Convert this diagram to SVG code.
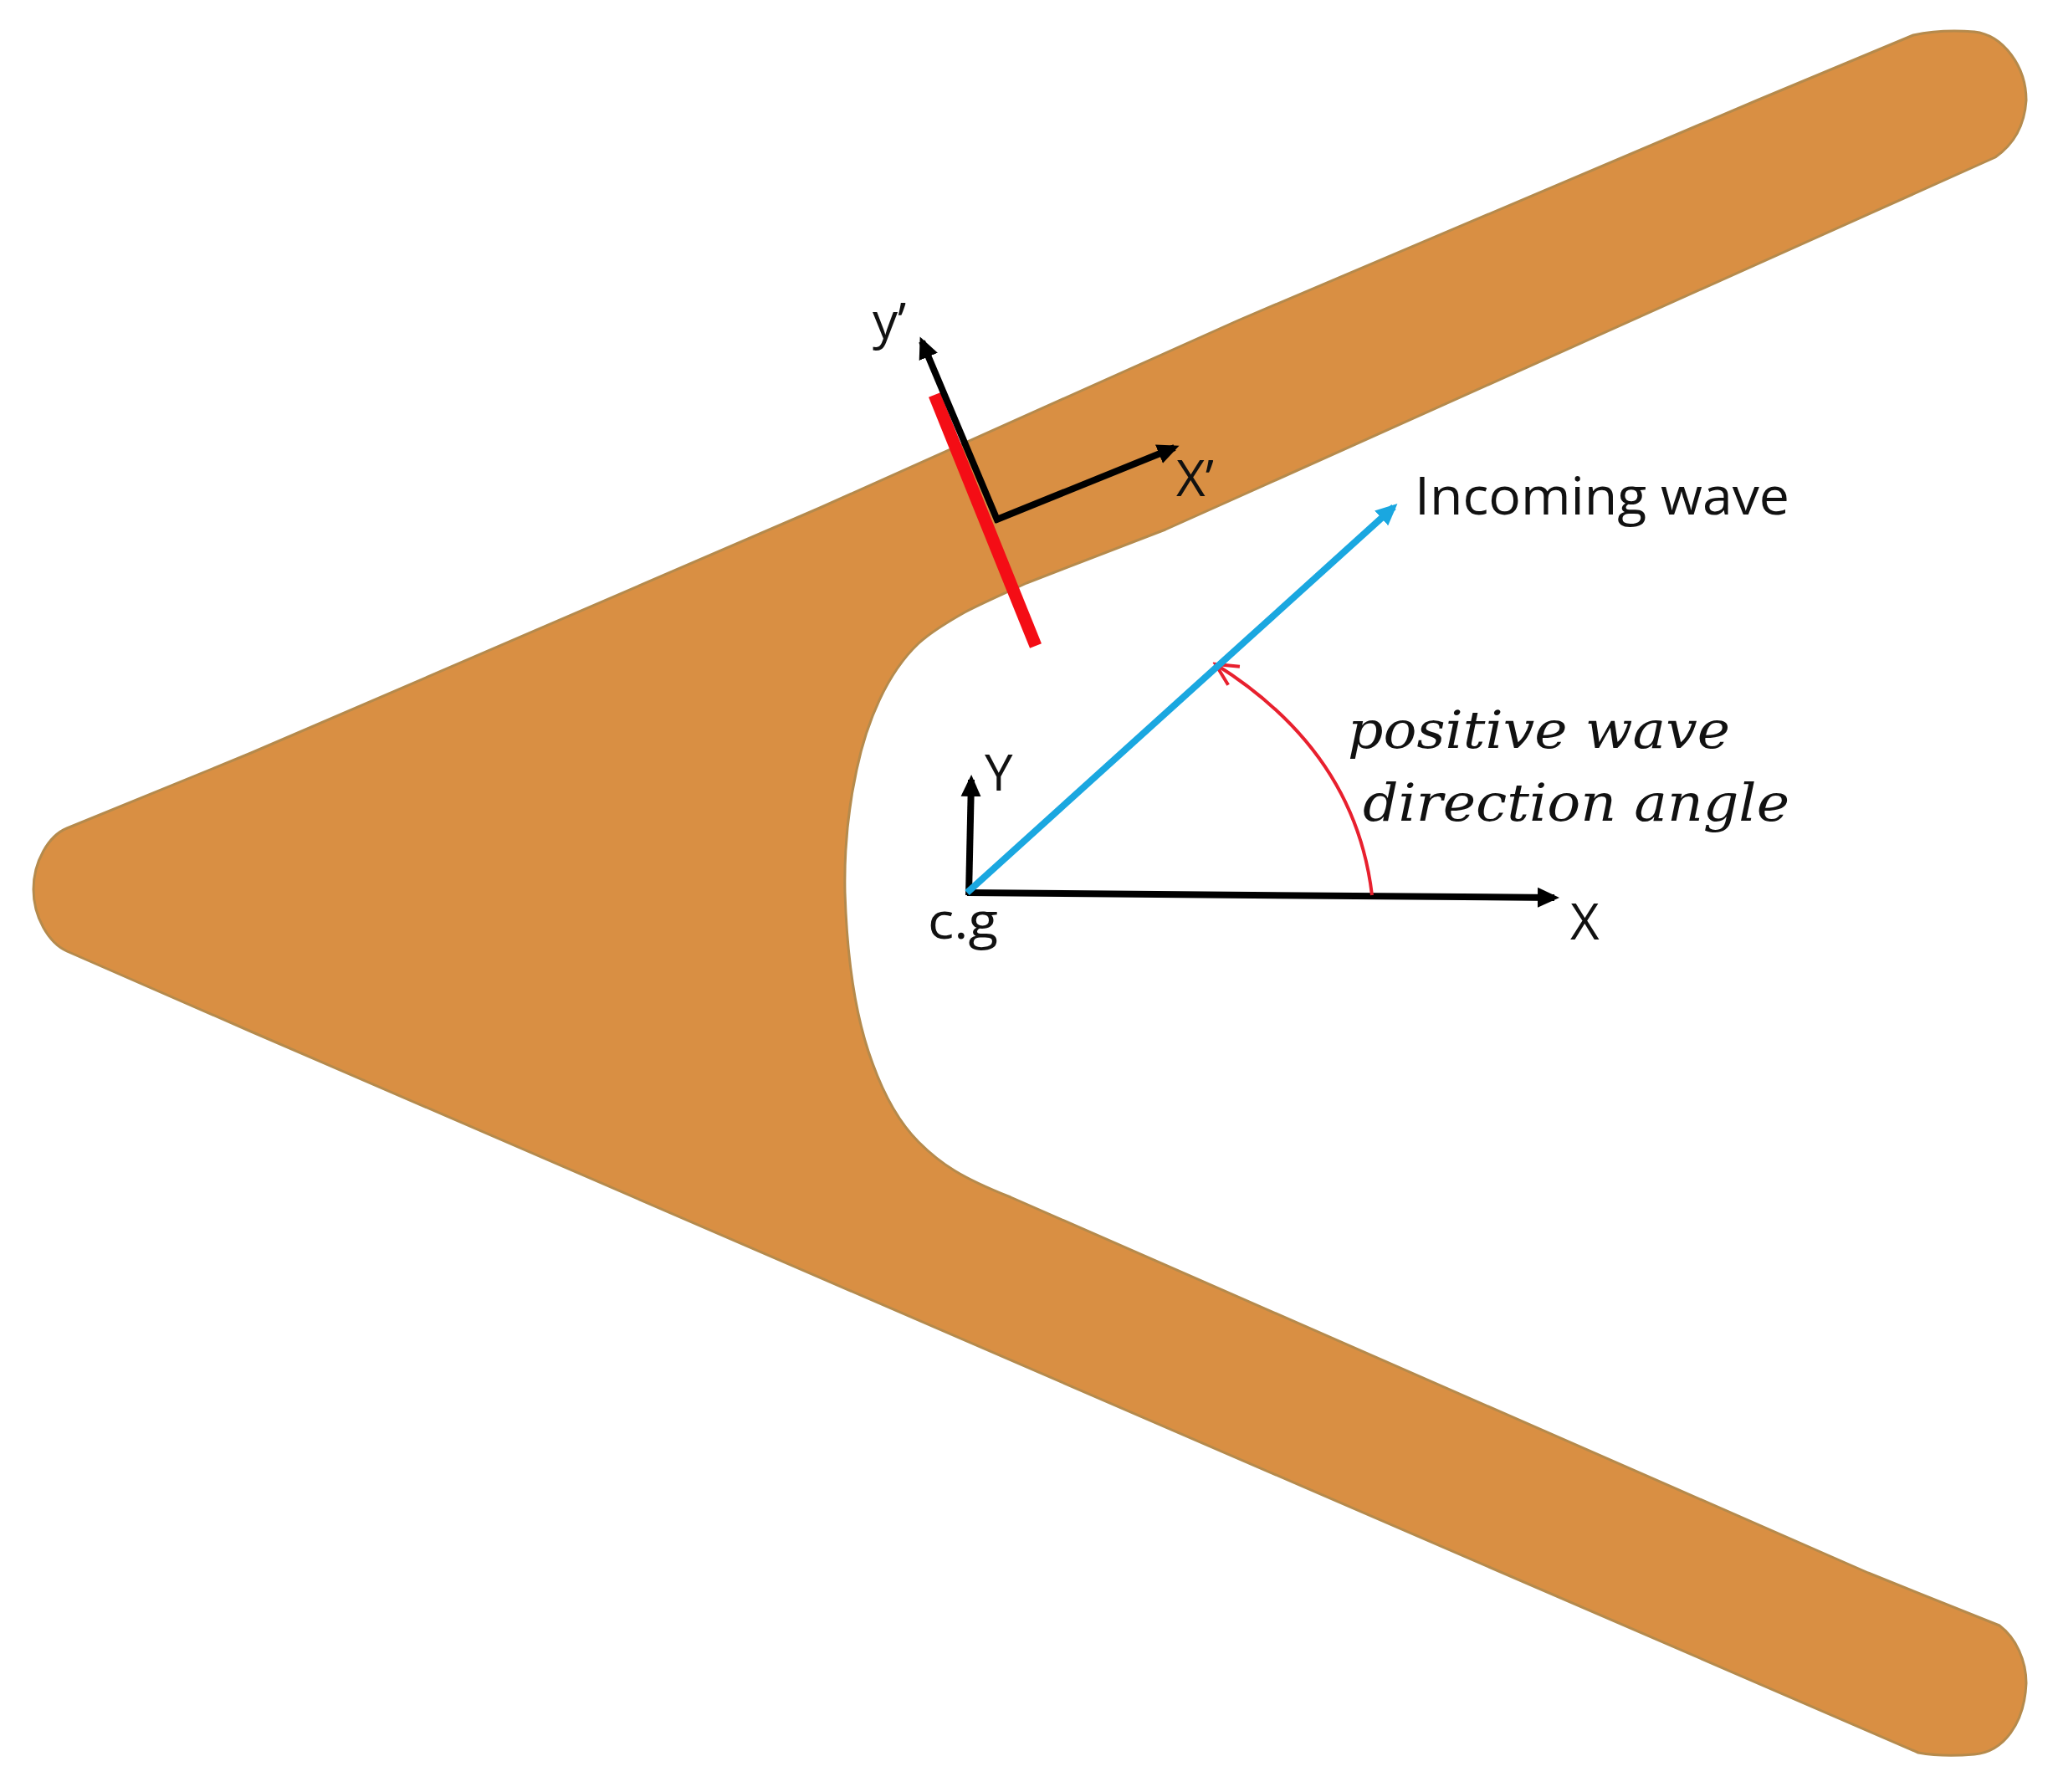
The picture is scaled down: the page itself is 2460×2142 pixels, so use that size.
<svg xmlns="http://www.w3.org/2000/svg" width="2460" height="2142" viewBox="0 0 2460 2142">
<style>
.sans{font-family:"Open Sans","Liberation Sans",sans-serif;fill:#111}
.math{font-family:"DejaVu Serif","Liberation Serif",serif;font-style:italic;fill:#111}
.ax{stroke:#000;stroke-width:8;fill:none}
</style>
<defs>
<marker id="ab" markerUnits="userSpaceOnUse" markerWidth="30" markerHeight="28" refX="20" refY="14" orient="auto"><path d="M0 2L26 14L0 26z" fill="#000"/></marker>
<marker id="ac" markerUnits="userSpaceOnUse" markerWidth="30" markerHeight="28" refX="20" refY="14" orient="auto"><path d="M0 2L26 14L0 26z" fill="#1AA7E0"/></marker>
<marker id="ar" markerUnits="userSpaceOnUse" markerWidth="34" markerHeight="34" refX="30" refY="17" orient="auto"><path d="M4 4L30 17L4 30" fill="none" stroke="#E8202E" stroke-width="4"/></marker>
</defs>
<rect width="2460" height="2142" fill="#fff"/>
<g id="hull">
<path d="M2287 42C2310 37 2335 36 2360 38C2395 42 2422 80 2422 120C2420 150 2408 172 2385 188L1393 633L1227 697C1195 712 1172 722 1153 732C1130 745 1110 758 1098 769C1060 805 1036 863 1024 920C1012 975 1009 1020 1010 1067C1012 1130 1020 1210 1043 1271C1060 1318 1078 1345 1098 1365C1125 1392 1150 1408 1208 1431L2233 1880L2390 1943C2410 1958 2422 1985 2422 2012C2420 2060 2395 2094 2360 2097C2335 2099 2315 2099 2293 2095L300 1233L80 1137C58 1127 40 1096 40 1063C40 1030 58 999 80 990L300 900L980 607L1480 383L2100 120Z" fill="#D98F43" stroke="#B58A4C" stroke-width="3" stroke-linejoin="round"/>
</g>
<g id="connectors">
<line id="section" x1="1117" y1="472" x2="1238" y2="772" stroke="#F40D15" stroke-width="15"/>
<line class="ax" x1="1193" y1="624" x2="1102" y2="408" marker-end="url(#ab)"/>
<line class="ax" x1="1189" y1="622" x2="1404" y2="535" marker-end="url(#ab)"/>
<line class="ax" x1="1156" y1="1067" x2="1858" y2="1073" marker-end="url(#ab)"/>
<line class="ax" x1="1158" y1="1070" x2="1161" y2="932" marker-end="url(#ab)"/>
<path d="M1640 1070C1630 985 1590 880 1453 794" fill="none" stroke="#E8202E" stroke-width="4" marker-end="url(#ar)"/>
<line x1="1156" y1="1067" x2="1666" y2="606" stroke="#1AA7E0" stroke-width="8" marker-end="url(#ac)"/>
</g>
<g id="labels">
<text class="sans" x="1043" y="405" font-size="60">y’</text>
<text class="sans" x="1406" y="593" font-size="60">X’</text>
<text class="sans" x="1691" y="615" font-size="62" textLength="448" lengthAdjust="spacingAndGlyphs">Incoming wave</text>
<text class="sans" x="1177" y="945" font-size="60">Y</text>
<text class="sans" x="1877" y="1123" font-size="60">X</text>
<text class="sans" x="1109" y="1122" font-size="60" textLength="84" lengthAdjust="spacingAndGlyphs">c.g</text>
<text class="math" x="1611" y="894" font-size="62" textLength="457" lengthAdjust="spacingAndGlyphs">positive wave</text>
<text class="math" x="1629" y="981" font-size="62" textLength="510" lengthAdjust="spacingAndGlyphs">direction angle</text>
</g>
</svg>
